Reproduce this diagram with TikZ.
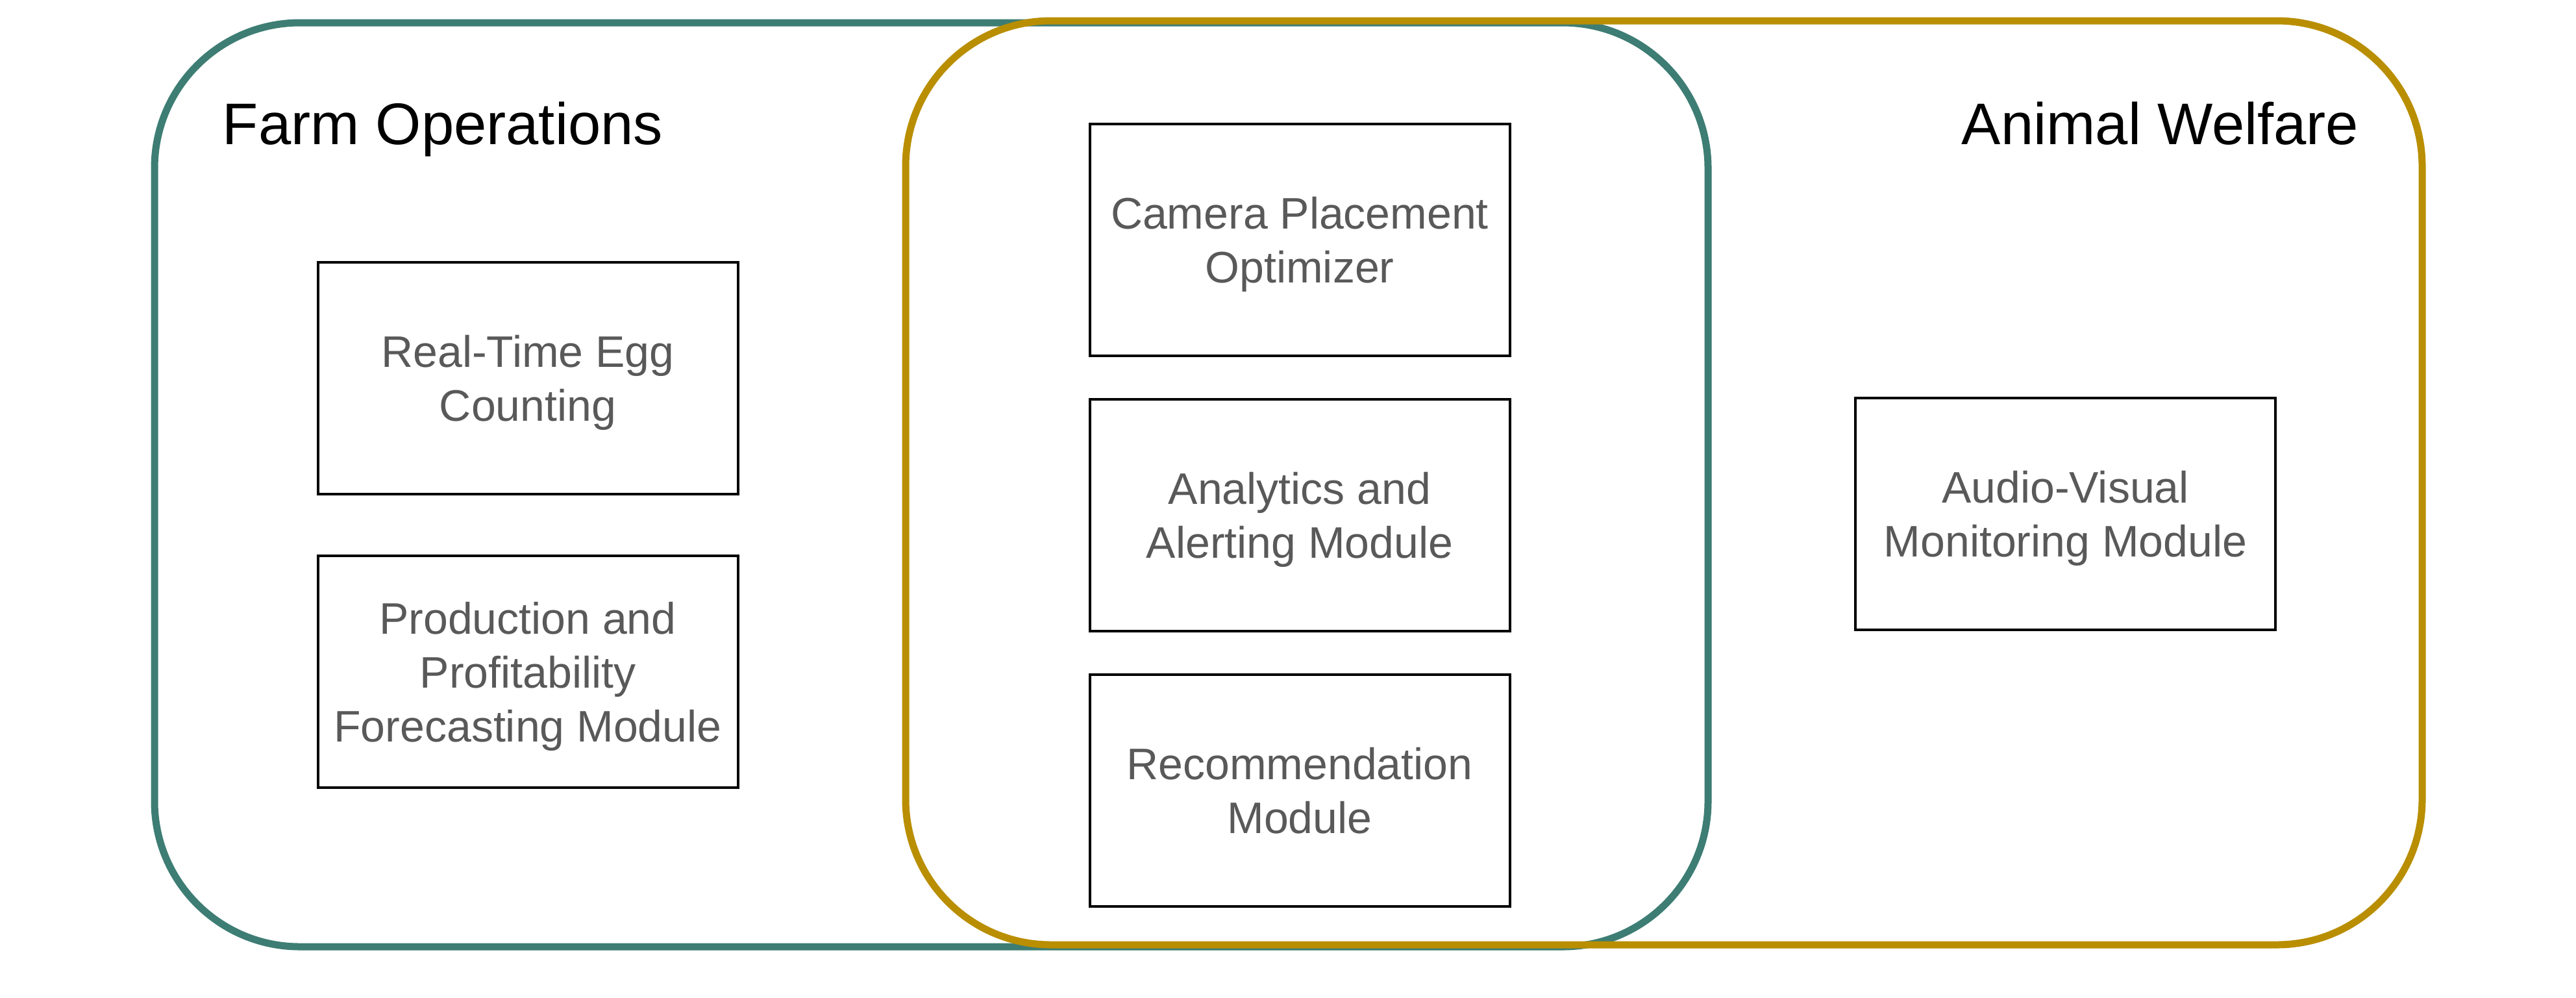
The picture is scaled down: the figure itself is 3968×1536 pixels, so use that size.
\documentclass[tikz,border=0pt]{standalone}
\usepackage{fontspec}
\setmainfont{Liberation Sans}
\definecolor{tealc}{HTML}{3D7D74}
\definecolor{goldc}{HTML}{B98E00}
\definecolor{greytxt}{HTML}{595959}
\begin{document}
\begin{tikzpicture}[x=0.25pt,y=-0.25pt,
  groupbox/.style={line width=2.75pt,rounded corners=56pt},
  modbox/.style={draw=black,line width=1pt,minimum width=161.75pt,minimum height=89.25pt,
    inner sep=0pt,align=center,text=greytxt,text depth=0pt,font=\fontsize{17}{20.75}\selectfont},
  grouptitle/.style={inner sep=0pt,text=black,font=\fontsize{22.6}{26}\selectfont}]
\useasboundingbox (0,0) rectangle (3968,1536);
\fill[white] (0,0) rectangle (3968,1536);
\draw[groupbox,draw=tealc] (238,35) rectangle (2631,1458);
\draw[groupbox,draw=goldc] (1395,32) rectangle (3731,1455);
\node[grouptitle,anchor=base west] (farm) at (342,222) {Farm Operations};
\node[grouptitle,anchor=base east] (welfare) at (3634,222) {Animal Welfare};
\node[modbox] (egg) at (813,582) {Real-Time Egg\\Counting};
\node[modbox] (prod) at (813,1034.5) {Production and\\Profitability\\Forecasting Module};
\node[modbox] (cam) at (2002,369.5) {Camera Placement\\Optimizer};
\node[modbox] (ana) at (2002,793) {Analytics and\\Alerting Module};
\node[modbox] (rec) at (2002,1217.5) {Recommendation\\Module};
\node[modbox] (av) at (3181.5,791.5) {Audio-Visual\\Monitoring Module};
\end{tikzpicture}
\end{document}
